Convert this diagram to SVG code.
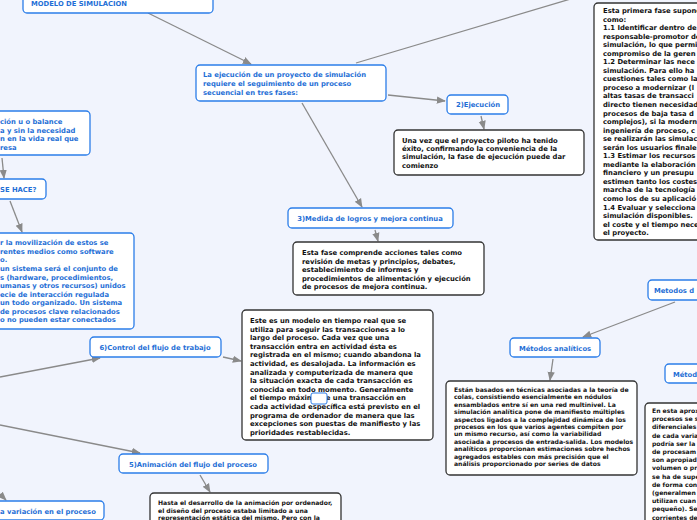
<svg xmlns="http://www.w3.org/2000/svg" width="697" height="520" viewBox="0 0 697 520">
<defs>
<marker id="ah" viewBox="0 0 10 10" refX="9" refY="5" markerWidth="7" markerHeight="7" orient="auto"><path d="M0,1 L10,5 L0,9 z" fill="#8a8a8a"/></marker>
<style>
.bn{fill:#fff;stroke:#2b7de9;stroke-width:1.3}
.dn{fill:#fff;stroke:#333;stroke-width:1.3}
.bt{font-family:"DejaVu Sans",Verdana,sans-serif;font-weight:bold;font-size:6.8px;fill:#1f6fd6}
.dt{font-family:"DejaVu Sans",Verdana,sans-serif;font-weight:bold;font-size:6.8px;fill:#111}
.st{font-family:"DejaVu Sans",Verdana,sans-serif;font-weight:bold;font-size:6.1px;fill:#111}
.c{stroke:#8a8a8a;stroke-width:1.3;fill:none}
.m{text-anchor:middle}
</style>
</defs>
<rect width="697" height="520" fill="#f1f4fd"/>
<g id="connectors">
<line class="c" x1="148" y1="13" x2="251" y2="64" marker-end="url(#ah)"/>
<line class="c" x1="356" y1="63" x2="594" y2="-8"/>
<line class="c" x1="388" y1="95" x2="445" y2="101" marker-end="url(#ah)"/>
<line class="c" x1="302" y1="103" x2="362" y2="207" marker-end="url(#ah)"/>
<line class="c" x1="481" y1="116" x2="484" y2="129" marker-end="url(#ah)"/>
<line class="c" x1="375" y1="230" x2="378" y2="241" marker-end="url(#ah)"/>
<line class="c" x1="2" y1="158" x2="4" y2="178" marker-end="url(#ah)"/>
<line class="c" x1="10" y1="201" x2="22" y2="232" marker-end="url(#ah)"/>
<line class="c" x1="0" y1="377" x2="100" y2="358" marker-end="url(#ah)"/>
<line class="c" x1="223" y1="357" x2="241" y2="361" marker-end="url(#ah)"/>
<line class="c" x1="0" y1="425" x2="140" y2="453" marker-end="url(#ah)"/>
<line class="c" x1="200" y1="475" x2="210" y2="492" marker-end="url(#ah)"/>
<line class="c" x1="0" y1="494" x2="6" y2="500" marker-end="url(#ah)"/>
<line class="c" x1="675" y1="302" x2="583" y2="337" marker-end="url(#ah)"/>
<line class="c" x1="553" y1="359" x2="550" y2="380" marker-end="url(#ah)"/>
</g>
<g id="n-modelo"><rect class="bn" x="23" y="-10" width="190" height="23" rx="4"/><text class="bt" x="31" y="6">MODELO DE SIMULACION</text></g>
<g id="n-main"><rect class="bn" x="196" y="65" width="190" height="36" rx="4"/>
<text class="bt" x="203" y="77">La ejecución de un proyecto de simulación</text>
<text class="bt" x="203" y="86">requiere el seguimiento de un proceso</text>
<text class="bt" x="203" y="95">secuencial en tres fases:</text></g>
<g id="n-ejec"><rect class="bn" x="447" y="95" width="61" height="19" rx="4"/><text class="bt m" x="478" y="107">2)Ejecución</text></g>
<g id="n-ejec-t"><rect class="dn" x="394" y="130" width="190" height="45" rx="4"/>
<text class="dt" x="402" y="143">Una vez que el proyecto piloto ha tenido</text>
<text class="dt" x="402" y="151">éxito, confirmando la conveniencia de la</text>
<text class="dt" x="402" y="159">simulación, la fase de ejecución puede dar</text>
<text class="dt" x="402" y="168">comienzo</text></g>
<g id="n-fase1"><rect class="dn" x="594" y="3" width="130" height="237" rx="4"/>
<g class="dt">
<text x="603" y="13">Esta primera fase supone</text>
<text x="603" y="21.5">como:</text>
<text x="603" y="30">1.1 Identificar dentro de</text>
<text x="603" y="38.6">responsable-promotor de</text>
<text x="603" y="47.2">simulación, lo que permi</text>
<text x="603" y="55.7">compromiso de la geren</text>
<text x="603" y="64.2">1.2 Determinar las nece</text>
<text x="603" y="72.8">simulación. Para ello ha</text>
<text x="603" y="81.3">cuestiones tales como la</text>
<text x="603" y="89.9">proceso a modernizar (l</text>
<text x="603" y="98.4">altas tasas de transacci</text>
<text x="603" y="107">directo tienen necesidad</text>
<text x="603" y="115.5">procesos de baja tasa d</text>
<text x="603" y="124">complejos), si la modern</text>
<text x="603" y="132.6">ingeniería de proceso, c</text>
<text x="603" y="141.2">se realizarán las simulac</text>
<text x="603" y="149.7">serán los usuarios finale</text>
<text x="603" y="158.2">1.3 Estimar los recursos</text>
<text x="603" y="166.8">mediante la elaboración</text>
<text x="603" y="175.3">financiero y un presupu</text>
<text x="603" y="183.9">estimen tanto los costes</text>
<text x="603" y="192.4">marcha de la tecnología</text>
<text x="603" y="201">como los de su aplicació</text>
<text x="603" y="209.5">1.4 Evaluar y selecciona</text>
<text x="603" y="218">simulación disponibles.</text>
<text x="603" y="226.6">el coste y el tiempo nece</text>
<text x="603" y="235.2">el proyecto.</text>
</g></g>
<g id="n-medida"><rect class="bn" x="288" y="208" width="165" height="20" rx="4"/><text class="bt m" x="370" y="221">3)Medida de logros y mejora continua</text></g>
<g id="n-medida-t"><rect class="dn" x="293" y="242" width="191" height="53" rx="4"/>
<text class="dt" x="302" y="255">Esta fase comprende acciones tales como</text>
<text class="dt" x="302" y="263.5">revisión de metas y principios, debates,</text>
<text class="dt" x="302" y="272">establecimiento de informes y</text>
<text class="dt" x="302" y="280.5">procedimientos de alimentación y ejecución</text>
<text class="dt" x="302" y="289">de procesos de mejora continua.</text></g>
<g id="n-left1"><rect class="bn" x="-10" y="111" width="100" height="44" rx="4"/>
<text class="bt" x="0" y="124">ción u o balance</text>
<text class="bt" x="0" y="132.5">a y sin la necesidad</text>
<text class="bt" x="0" y="141">n en la vida real que</text>
<text class="bt" x="0" y="149.5">resa</text></g>
<g id="n-sehace"><rect class="bn" x="-10" y="179" width="56" height="20" rx="4"/><text class="bt" x="0" y="192">SE HACE?</text></g>
<g id="n-left2"><rect class="bn" x="-10" y="233" width="144" height="96" rx="4"/>
<g class="bt">
<text x="0" y="245">r la movilización de estos se</text>
<text x="0" y="253.5">rentes medios como software</text>
<text x="0" y="262">o.</text>
<text x="0" y="271">un sistema será el conjunto de</text>
<text x="0" y="279.5">s (hardware, procedimientos,</text>
<text x="0" y="288">umanas y otros recursos) unidos</text>
<text x="0" y="296.5">ecie de interacción regulada</text>
<text x="0" y="305">un todo organizado. Un sistema</text>
<text x="0" y="313.5">de procesos clave relacionados</text>
<text x="0" y="322">o no pueden estar conectados</text>
</g></g>
<g id="n-control"><rect class="bn" x="90" y="337" width="131" height="20" rx="4"/><text class="bt m" x="155" y="350">6)Control del flujo de trabajo</text></g>
<g id="n-control-t"><rect class="dn" x="242" y="310" width="191" height="130" rx="4"/>
<g class="dt">
<text x="250" y="323">Este es un modelo en tiempo real que se</text>
<text x="250" y="331.6">utiliza para seguir las transacciones a lo</text>
<text x="250" y="340.2">largo del proceso. Cada vez que una</text>
<text x="250" y="348.8">transacción entra en actividad ésta es</text>
<text x="250" y="357.4">registrada en el mismo; cuando abandona la</text>
<text x="250" y="366">actividad, es desalojada. La información es</text>
<text x="250" y="374.6">analizada y computerizada de manera que</text>
<text x="250" y="383.2">la situación exacta de cada transacción es</text>
<text x="250" y="391.8">conocida en todo momento. Generalmente</text>
<text x="250" y="400.4">el tiempo máximo de una transacción en</text>
<text x="250" y="409">cada actividad específica está previsto en el</text>
<text x="250" y="417.6">programa de ordenador de manera que las</text>
<text x="250" y="426.2">excepciones son puestas de manifiesto y las</text>
<text x="250" y="434.8">prioridades restablecidas.</text>
</g>
<rect x="311" y="393" width="16" height="11" rx="2" fill="#fff" stroke="#2b7de9" stroke-width="1"/></g>
<g id="n-anim"><rect class="bn" x="119" y="454" width="149" height="19" rx="4"/><text class="bt m" x="193" y="467">5)Animación del flujo del proceso</text></g>
<g id="n-anim-t"><rect class="dn" x="150" y="493" width="191" height="40" rx="4"/>
<text class="st" x="158" y="505">Hasta el desarrollo de la animación por ordenador,</text>
<text class="st" x="158" y="512.5">el diseño del proceso estaba limitado a una</text>
<text class="st" x="158" y="520">representación estática del mismo. Pero con la</text></g>
<g id="n-variacion"><rect class="bn" x="-10" y="501" width="114" height="19" rx="4"/><text class="bt" x="0" y="514">a variación en el proceso</text></g>
<g id="n-metd"><rect class="bn" x="648" y="280" width="72" height="20" rx="4"/><text class="bt" x="654" y="293">Metodos d</text></g>
<g id="n-analit"><rect class="bn" x="510" y="338" width="90" height="19" rx="4"/><text class="bt m" x="555" y="351">Métodos analíticos</text></g>
<g id="n-metod2"><rect class="bn" x="665" y="364" width="55" height="19" rx="4"/><text class="bt" x="673" y="377">Métod</text></g>
<g id="n-analit-t"><rect class="dn" x="446" y="381" width="191" height="94" rx="4"/>
<g class="st">
<text x="454" y="392">Están basados en técnicas asociadas a la teoría de</text>
<text x="454" y="399.4">colas, consistiendo esencialmente en nódulos</text>
<text x="454" y="406.8">ensamblados entre sí en una red multinivel. La</text>
<text x="454" y="414.2">simulación analítica pone de manifiesto múltiples</text>
<text x="454" y="421.6">aspectos ligados a la complejidad dinámica de los</text>
<text x="454" y="429">procesos en los que varios agentes compiten por</text>
<text x="454" y="436.4">un mismo recurso, así como la variabilidad</text>
<text x="454" y="443.8">asociada a procesos de entrada-salida. Los modelos</text>
<text x="454" y="451.2">analíticos proporcionan estimaciones sobre hechos</text>
<text x="454" y="458.6">agregados estables con más precisión que el</text>
<text x="454" y="466">análisis proporcionado por series de datos</text>
</g></g>
<g id="n-right2"><rect class="dn" x="645" y="403" width="80" height="130" rx="4"/>
<g class="st">
<text x="652" y="413">En esta aprox</text>
<text x="652" y="421.2">procesos se s</text>
<text x="652" y="429.4">diferenciales</text>
<text x="652" y="437.6">de cada varia</text>
<text x="652" y="445.8">podría ser la</text>
<text x="652" y="454">de procesam</text>
<text x="652" y="462.2">son apropiad</text>
<text x="652" y="470.4">volumen o pr</text>
<text x="652" y="478.6">se ha de supe</text>
<text x="652" y="486.8">de forma con</text>
<text x="652" y="495">(generalmen</text>
<text x="652" y="503.2">utilizan cuan</text>
<text x="652" y="511.4">pequeño). Se</text>
<text x="652" y="519.6">corrientes de</text>
<text x="652" y="527.8">momento en</text>
</g></g>
</svg>
